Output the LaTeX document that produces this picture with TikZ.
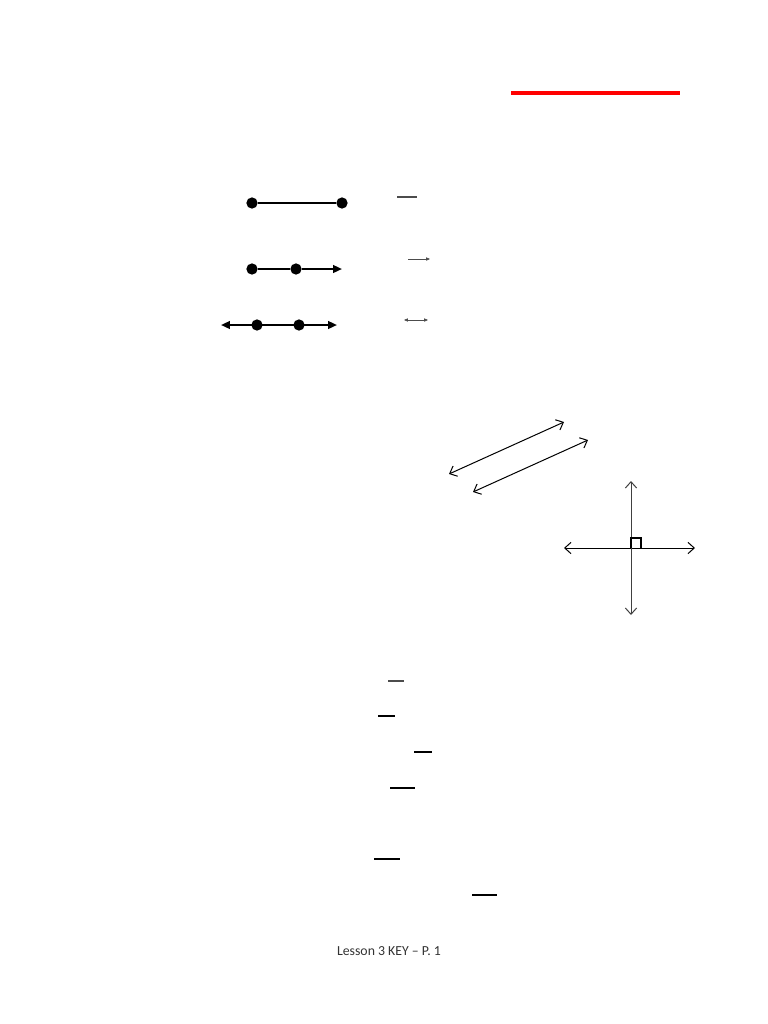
\documentclass[tikz,border=0pt]{standalone}
\usepackage{fontspec}
\setmainfont{Carlito}
\usetikzlibrary{arrows.meta, positioning}

\tikzset{
  dot/.style={circle, fill, inner sep=0pt, minimum size=9pt},
  bar/.style={line width=1.3pt},
  fig/.style={line width=1.6pt},
  thinline/.style={line width=0.8pt, {Straight Barb[length=5pt,width=9pt]}-{Straight Barb[length=5pt,width=9pt]}}
}

\begin{document}
\begin{tikzpicture}[x=0.797pt, y=-0.797pt]
  \useasboundingbox (0,0) rectangle (768,1024);

  % red answer line
  \coordinate (R1) at (511,93);
  \coordinate (R2) at (680,93);
  \draw[red, line width=3pt] (R1) -- (R2);

  % segment
  \draw(252,203) node[dot] (S1) {};
  \draw(342,203) node[dot] (S2) {};
  \draw[fig] (S1) -- (S2);
  \coordinate (s1) at (397,197);
  \coordinate (s2) at (417,197);
  \draw[line width=0.9pt, black!70] (s1) -- (s2);

  % ray
  \draw(252,269) node[dot] (A1) {};
  \draw(296,269) node[dot] (A2) {};
  \coordinate (A3) at (342,269);
  \draw[fig, -{Triangle[length=7pt,width=6pt]}] (A1) -- (A2) -- (A3);
  \coordinate (a1) at (408,259);
  \coordinate (a2) at (430,259);
  \draw[line width=0.6pt, black!70, -{Triangle[length=3pt,width=2.5pt]}] (a1) -- (a2);

  % line
  \coordinate (L0) at (221,325);
  \draw(257,325) node[dot] (L1) {};
  \draw(299,325) node[dot] (L2) {};
  \coordinate (L3) at (337,325);
  \draw[fig, {Triangle[length=7pt,width=6pt]}-{Triangle[length=7pt,width=6pt]}] (L0) -- (L3);
  \coordinate (l1) at (404,320);
  \coordinate (l2) at (428,320);
  \draw[line width=0.6pt, black!70, {Triangle[length=3pt,width=2.5pt]}-{Triangle[length=3pt,width=2.5pt]}] (l1) -- (l2);

  % parallel lines
  \coordinate (P1) at (449,474);
  \coordinate (P2) at (564,422);
  \coordinate (Q1) at (473,492);
  \coordinate (Q2) at (588,440);
  \draw[thinline] (P1) -- (P2);
  \draw[thinline] (Q1) -- (Q2);

  % perpendicular lines
  \coordinate (H1) at (564,548);
  \coordinate (H2) at (695,548);
  \coordinate (V1) at (631,481);
  \coordinate (V2) at (631,615);
  \draw[thinline] (H1) -- (H2);
  \draw[thinline, black!75] (V1) -- (V2);
  \coordinate (C) at (631,548);
  \draw[line width=0.9pt] (C) -- ++(0,-10) -- ++(10,0) -- ++(0,10);

  % answer bars
  \coordinate (b1) at (388,681);  \coordinate (e1) at (404,681);
  \coordinate (b2) at (378,716);  \coordinate (e2) at (395,716);
  \coordinate (b3) at (414,752);  \coordinate (e3) at (432,752);
  \coordinate (b4) at (390,788);  \coordinate (e4) at (415,788);
  \coordinate (b5) at (374,859);  \coordinate (e5) at (400,859);
  \coordinate (b6) at (472,895);  \coordinate (e6) at (497,895);
  \draw[line width=0.9pt, black!70] (b1) -- (e1);
  \draw[bar] (b2) -- (e2);
  \draw[line width=0.9pt] (b3) -- (e3);
  \draw[bar] (b4) -- (e4);
  \draw[bar] (b5) -- (e5);
  \draw[bar] (b6) -- (e6);

  % footer
  \node[font=\fontsize{11pt}{13pt}\selectfont, text=black!80] (foot) at (389,951) {Lesson 3 KEY -- P. 1};

\end{tikzpicture}
\end{document}
